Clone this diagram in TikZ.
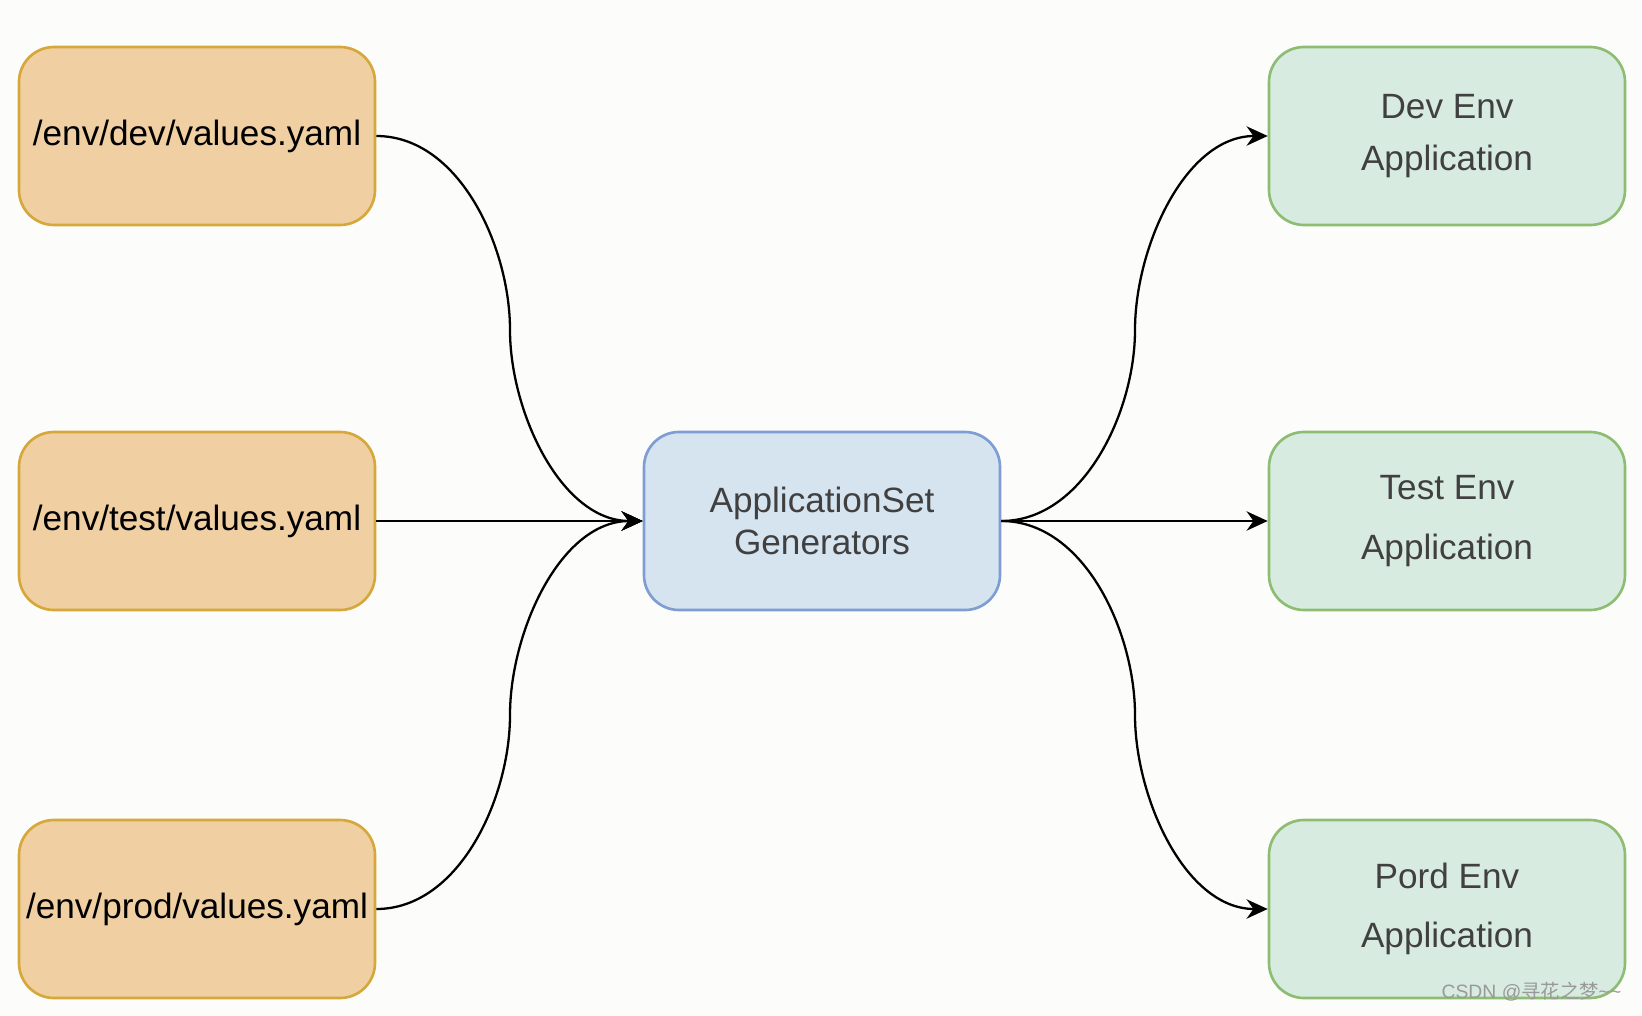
\documentclass[tikz,border=0pt]{standalone}
\usepackage{fontspec}
\setmainfont{Liberation Sans}
\newfontfamily\cjk{Noto Sans CJK SC}
\usetikzlibrary{arrows.meta}
\definecolor{srcfill}{HTML}{F0CFA2}
\definecolor{srcdraw}{HTML}{D6A73A}
\definecolor{genfill}{HTML}{D6E4F0}
\definecolor{gendraw}{HTML}{7E9DD3}
\definecolor{appfill}{HTML}{D8EBE1}
\definecolor{appdraw}{HTML}{8CBD72}
\definecolor{bgcol}{HTML}{FCFCFB}

\tikzset{
    box/.style={rounded corners=0.7cm, line width=1.5pt, minimum width=7.12cm,
        minimum height=3.56cm, align=center, font=\fontsize{20}{30}\selectfont},
    src/.style={box, fill=srcfill, draw=srcdraw, text=black},
    gen/.style={box, fill=genfill, draw=gendraw, text=black!75},
    app/.style={box, fill=appfill, draw=appdraw, text=black!75},
    flow/.style={line width=1.3pt, -{Stealth[length=12pt,width=11pt]}}
}

\begin{document}
\begin{tikzpicture}
    \fill[bgcol] (0,0) rectangle (32.84,-20.32);
    \useasboundingbox (0,0) rectangle (32.84,-20.32);

    % sources
    \node[src] (dev)  at (3.94,-2.72)  {/env/dev/values.yaml};
    \node[src] (test) at (3.94,-10.42) {/env/test/values.yaml};
    \node[src] (prod) at (3.94,-18.18) {/env/prod/values.yaml};

    % generator
    \node[gen] (gen) at (16.44,-10.42) {ApplicationSet\\[-6pt]Generators};

    % applications
    \node[app] (devapp)  at (28.94,-2.72)  {Dev Env\\Application};
    \node[app] (testapp) at (28.94,-10.42) {Test Env\\[4pt]Application};
    \node[app] (prodapp) at (28.94,-18.18) {Pord Env\\[4pt]Application};

    \coordinate (l1) at (10.2,-6.6);
    \coordinate (l3) at (10.2,-14.3);
    \coordinate (r1) at (22.7,-6.6);
    \coordinate (r3) at (22.7,-14.3);

    % connectors
    \draw[flow] (dev.east) to[out=0,in=90,looseness=0.9] (l1) to[out=-90,in=180,looseness=0.9] (gen.west);
    \draw[flow] (test.east) -- (gen.west);
    \draw[flow] (prod.east) to[out=0,in=-90,looseness=0.9] (l3) to[out=90,in=180,looseness=0.9] (gen.west);
    \draw[flow] (gen.east) to[out=0,in=-90,looseness=0.9] (r1) to[out=90,in=180,looseness=0.9] (devapp.west);
    \draw[flow] (gen.east) -- (testapp.west);
    \draw[flow] (gen.east) to[out=0,in=90,looseness=0.9] (r3) to[out=-90,in=180,looseness=0.9] (prodapp.west);

    \node[text=black!40, anchor=south east, font=\fontsize{11}{13}\selectfont]
        (mark) at (32.55,-20.15) {CSDN @{\cjk 寻花之梦}\textasciitilde\textasciitilde};
\end{tikzpicture}
\end{document}
